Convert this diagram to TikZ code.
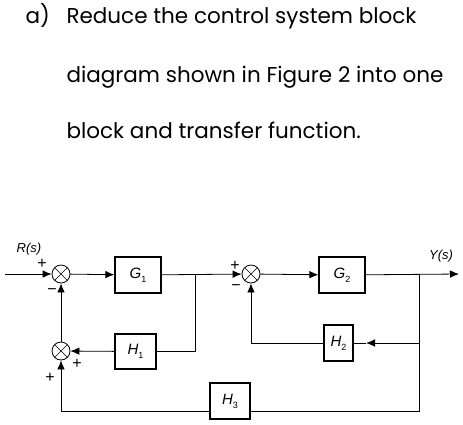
\documentclass[tikz,border=0pt]{standalone}
\usepackage{fontspec}
\newfontfamily\qfont{Poppins}
\newfontfamily\lblfont{Liberation Sans}
\usetikzlibrary{arrows.meta, calc}
\tikzset{sumjunc/.style={circle, draw, line width = .8pt, minimum size = 18pt, inner sep = 0pt, path picture={ 
    \draw[black, line width = .6pt]
  (path picture bounding box.south west) -- (path picture bounding box.north east) (path picture bounding box.north west) -- (path picture bounding box.south east);
  }}}
\tikzset{block/.style={rectangle, draw, line width = 1.2pt, inner sep = 0pt, font=\lblfont\fontsize{15}{16}\selectfont}}
\tikzset{sgn/.style={font=\lblfont\fontsize{16}{16}\selectfont, inner sep = 0pt}}
\tikzset{sig/.style={line width = .8pt}}
\tikzset{tip/.style={-{Latex[length=9pt, width=7.5pt]}}}
\tikzset{qline/.style={anchor=base west, font=\qfont\fontsize{21.5}{24}\selectfont}}
\newcommand{\blk}[2]{\itshape #1\raisebox{-4pt}{\fontsize{9}{9}\selectfont\upshape #2}}

\begin{document}
\begin{tikzpicture}[x=1pt, y=-1pt]
    \useasboundingbox (0,0) rectangle (463,424);

    % question text
    \node [qline] (qa) at (22, 23) {a)};
    \node [qline] (q1) at (63, 23) {Reduce the control system block};
    \node [qline] (q2) at (63, 82) {diagram shown in Figure 2 into one};
    \node [qline] (q3) at (63, 138) {block and transfer function.};

    % summing junctions
    \node [sumjunc] (S1) at (61, 274) {};
    \node [sumjunc] (S2) at (61, 351) {};
    \node [sumjunc] (S3) at (251, 274) {};

    % blocks
    \node[block,
    minimum width = 46pt,
    minimum height = 36pt] (G1) at (138, 275) {\blk{G}{1}};

    \node[block,
    minimum width = 46pt,
    minimum height = 36pt] (G2) at (342, 275) {\blk{G}{2}};

    \node[block,
    minimum width = 41pt,
    minimum height = 35pt] (H1) at (135.5, 351.5) {\blk{H}{1}};

    \node[block,
    minimum width = 29pt,
    minimum height = 36pt] (H2) at (338.5, 343) {\blk{H}{2}};

    \node[block,
    minimum width = 40pt,
    minimum height = 36pt] (H3) at (230, 401) {\blk{H}{3}};

    % ends and branch points
    \coordinate (in0) at (5, 274);
    \coordinate (out0) at (459, 274);
    \coordinate (b1) at (195, 274);
    \coordinate (b2) at (419, 274);
    \coordinate (h2in) at (366, 343);

    \node [font=\lblfont\itshape\fontsize{13}{14}\selectfont] (R) at (29, 249) {R(s)};
    \node [font=\lblfont\itshape\fontsize{13}{14}\selectfont] (Y) at (441, 256) {Y(s)};

    % signs
    \node [sgn] (p1) at (42, 264) {+};
    \node [sgn] (m1) at (52, 292) {\textminus};
    \node [sgn] (p2) at (77, 364) {+};
    \node [sgn] (p3) at (50, 378) {+};
    \node [sgn] (p4) at (235, 266) {+};
    \node [sgn] (m2) at (236, 288) {\textminus};

    % connections
    \draw [sig, tip] (in0) -- (S1);
    \draw [sig, tip] (S1) -- (G1);
    \draw [sig, tip] (G1) -- (S3);
    \draw [sig, tip] (S3) -- (G2);
    \draw [sig, tip] (G2) -- (out0);
    \draw [sig] (b1) |- (H1);
    \draw [sig, tip] (H1) -- (S2);
    \draw [sig, tip] (S2) -- (S1);
    \draw [sig, tip] (b2) |- (h2in);
    \draw [sig] (h2in) -- (H2);
    \draw [sig, tip] (H2) -| (S3);
    \draw [sig] (b2) |- ([yshift=-10pt]H3.east);
    \draw [sig, tip] ([yshift=-10pt]H3.west) -| (S2);

\end{tikzpicture}
\end{document}
